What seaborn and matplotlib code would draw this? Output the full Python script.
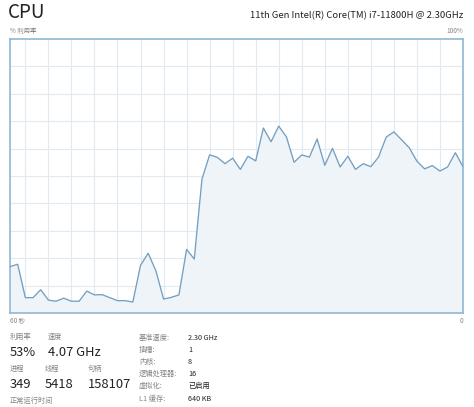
import matplotlib
matplotlib.use("Agg")
import matplotlib.pyplot as plt
import seaborn as sns
import numpy as np
import pandas as pd

# ---- data ----
seconds = list(range(60))
cpu_usage = [16.9, 17.8, 5.6, 5.6, 8.5, 4.7, 4.3, 5.4, 4.3, 4.3,
             8.0, 6.6, 6.7, 5.6, 4.5, 4.5, 4.0, 17.4, 21.8, 15.4,
             5.1, 5.7, 6.6, 23.2, 19.7, 48.8, 57.7, 56.8, 54.5, 56.5,
             52.4, 57.2, 55.5, 67.5, 62.5, 68.2, 64.3, 55.0, 57.7, 56.9,
             63.5, 53.9, 60.1, 53.3, 57.2, 52.4, 54.5, 53.4, 56.9, 64.2,
             66.1, 63.2, 60.3, 55.4, 52.6, 53.8, 51.8, 53.3, 58.5, 53.4]

title_left = "CPU"
title_right = "11th Gen Intel(R) Core(TM) i7-11800H @ 2.30GHz"
axis_top_left = "% 利用率"
axis_top_right = "100%"
axis_bottom_left = "60 秒"
axis_bottom_right = "0"

stat_labels_row1 = ["利用率", "速度"]
stat_values_row1 = ["53%", "4.07 GHz"]
stat_labels_row2 = ["进程", "线程", "句柄"]
stat_values_row2 = ["349", "5418", "158107"]
uptime_label = "正常运行时间"
info_labels = ["基准速度:", "插槽:", "内核:", "逻辑处理器:", "虚拟化:", "L1 缓存:"]
info_values = ["2.30 GHz", "1", "8", "16", "已启用", "640 KB"]

# ---- style ----
sns.set_style("white")
plt.rcParams["font.family"] = ["Noto Sans CJK SC", "DejaVu Sans"]

W, H = 474, 407
fig = plt.figure(figsize=(W / 100, H / 100), dpi=100)
fig.patch.set_facecolor("white")

line_color = "#729fc2"
border_color = "#8fb7d6"
grid_color = "#e0eaf2"
fill_color = "#eff4f9"
label_gray = "#858585"
dark = "#222222"

ax = fig.add_axes([10 / W, 1 - 313 / H, 453 / W, 274 / H])
df = pd.DataFrame({"t": seconds, "u": cpu_usage})
ax.fill_between(df["t"], df["u"], 0, color=fill_color, zorder=1, linewidth=0)
sns.lineplot(data=df, x="t", y="u", ax=ax, color=line_color, linewidth=0.95, zorder=3)

ax.set_xlim(0, 59)
ax.set_ylim(0, 100)
ax.set_xticks(np.arange(2, 59, 3))
ax.set_yticks(np.arange(10, 100, 10))
ax.grid(True, color=grid_color, linewidth=0.8, zorder=0)
ax.set_axisbelow(True)
ax.tick_params(length=0, labelbottom=False, labelleft=False)
ax.set_xlabel("")
ax.set_ylabel("")
for s in ax.spines.values():
    s.set_color(border_color)
    s.set_linewidth(1.2)
    s.set_visible(True)


def put(x, y, s, size, color=dark, ha="left", va="center"):
    fig.text(x / W, 1 - y / H, s, fontsize=size, color=color, ha=ha, va=va)


put(8, 12, title_left, 13.5)
put(463, 16, title_right, 6.8, ha="right")
put(10, 31, axis_top_left, 4.6, color=label_gray)
put(463, 31, axis_top_right, 4.6, color=label_gray, ha="right")
put(10, 321, axis_bottom_left, 4.6, color=label_gray)
put(463, 321, axis_bottom_right, 4.6, color=label_gray, ha="right")

row1_x = [10, 48]
for x, lab, val in zip(row1_x, stat_labels_row1, stat_values_row1):
    put(x, 337, lab, 5.2, color=label_gray)
    put(x, 352, val, 9.3)

row2_x = [10, 45, 88]
for x, lab, val in zip(row2_x, stat_labels_row2, stat_values_row2):
    put(x, 369, lab, 5.2, color=label_gray)
    put(x, 384, val, 9.3)

put(10, 401, uptime_label, 5.2, color=label_gray)

info_y = [337.5, 349.5, 361.5, 373.5, 386, 399]
for y, lab, val in zip(info_y, info_labels, info_values):
    put(139, y, lab, 5.2, color=label_gray)
    put(188, y, val, 5.2)

fig.savefig("out.png", dpi=100)
